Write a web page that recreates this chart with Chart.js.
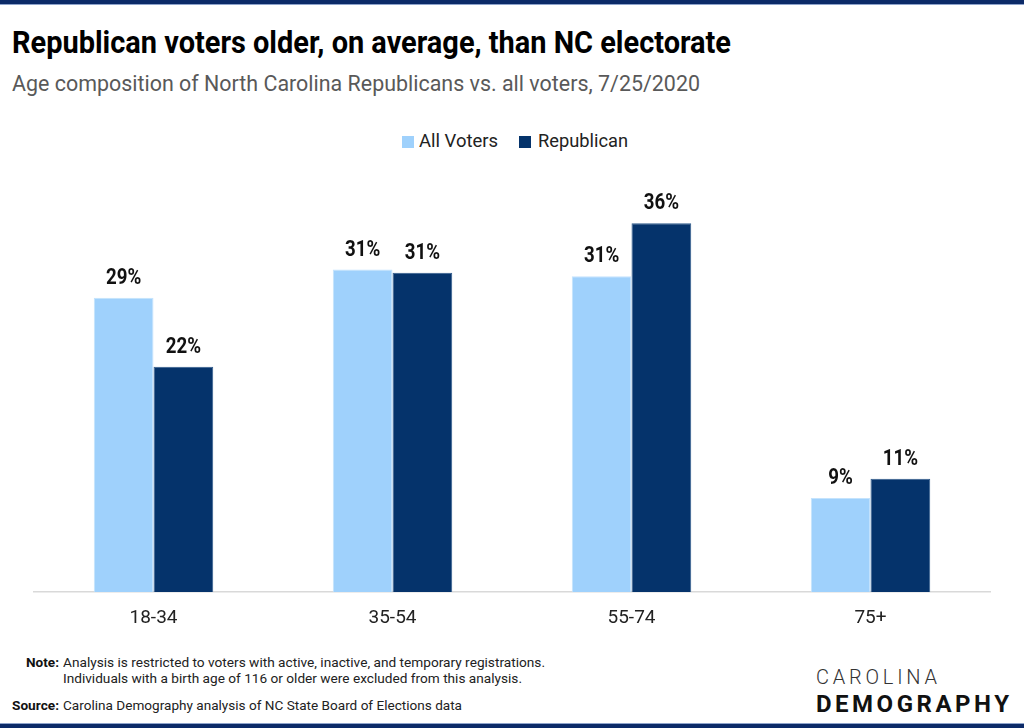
<!DOCTYPE html>
<html>
<head>
<meta charset="utf-8">
<script src="https://cdn.jsdelivr.net/npm/chart.js@4.4.1/dist/chart.umd.min.js"></script>
<style>
  html, body { margin: 0; padding: 0; background: #fff; }
  body { width: 1024px; height: 728px; position: relative; overflow: hidden; font-family: Roboto, "Noto Sans", sans-serif; }
  .t { position: absolute; white-space: nowrap; line-height: 1; transform-origin: left top; }
  #topbar { position: absolute; left: 0; top: 0; width: 1024px; height: 4px; background: #0c2a68; border-bottom: 1px solid #8ea3cb; }
  #botbar { position: absolute; left: 0; top: 723px; width: 1024px; height: 5px; background: #0c2a68; border-top: 1px solid #8ea3cb; }
  #wrap { position: absolute; left: 0; top: 160px; width: 1024px; height: 480px; }
  .sq { position: absolute; width: 12px; height: 12px; }
</style>
</head>
<body>
<div id="topbar"></div>
<div class="t" id="title" data-w="719" style="left:12px; top:27px; font-size:31px; font-weight:700; color:#000;">Republican voters older, on average, than NC electorate</div>
<div class="t" id="subtitle" data-w="688" style="left:12px; top:73px; font-size:22px; color:#595959;">Age composition of North Carolina Republicans vs. all voters, 7/25/2020</div>

<div class="sq" id="sq1" style="left:402px; top:136px;"></div>
<div class="t" id="lg1" data-w="79" style="left:419px; top:131px; font-size:19px; color:#222;"></div>
<div class="sq" id="sq2" style="left:519px; top:136px;"></div>
<div class="t" id="lg2" data-w="90" style="left:538px; top:131px; font-size:19px; color:#222;"></div>

<div id="wrap"><canvas id="c"></canvas></div>

<div class="t" data-w="33" style="left:26px; top:656px; font-size:13px; font-weight:700; color:#111;">Note:</div>
<div class="t" data-w="482" style="left:63px; top:656px; font-size:13px; color:#222;">Analysis is restricted to voters with active, inactive, and temporary registrations.</div>
<div class="t" data-w="459" style="left:63px; top:672px; font-size:13px; color:#222;">Individuals with a birth age of 116 or older were excluded from this analysis.</div>
<div class="t" data-w="47" style="left:12px; top:699px; font-size:13px; font-weight:700; color:#111;">Source:</div>
<div class="t" data-w="399" style="left:63px; top:699px; font-size:13px; color:#222;">Carolina Demography analysis of NC State Board of Elections data</div>

<div class="t" data-ls="121" style="left:816px; top:667px; font-size:20px; font-weight:300; color:#333;">CAROLINA</div>
<div class="t" data-ls="193" style="left:816px; top:692px; font-size:24px; font-weight:700; color:#111;">DEMOGRAPHY</div>

<div id="botbar"></div>

<script>
// ---- data ----
const categories = ["18-34", "35-54", "55-74", "75+"];
const seriesNames = ["All Voters", "Republican"];
const allVoters = [28.6, 31.35, 30.7, 9.15];
const republican = [21.9, 31.05, 35.85, 11.0];
const colors = ["#9fd1fc", "#05336b"];
const borderColors = ["#c4e3fd", "#2f5b8c"];

document.getElementById('sq1').style.background = colors[0];
document.getElementById('sq2').style.background = colors[1];
document.getElementById('lg1').textContent = seriesNames[0];
document.getElementById('lg2').textContent = seriesNames[1];

// fit helpers for HTML text
document.querySelectorAll('[data-w]').forEach(el => {
  const w = el.getBoundingClientRect().width;
  const target = +el.dataset.w;
  if (w > 0) el.style.transform = 'scaleX(' + (target / w) + ')';
});
document.querySelectorAll('[data-ls]').forEach(el => {
  const n = el.textContent.length;
  const w = el.getBoundingClientRect().width;
  const target = +el.dataset.ls;
  const ls = (target - w) / (n - 1);
  el.style.letterSpacing = ls + 'px';
});

const valueLabels = {
  id: 'valueLabels',
  afterDatasetsDraw(chart) {
    const ctx = chart.ctx;
    ctx.save();
    ctx.font = '700 22px Roboto';
    ctx.fillStyle = '#111';
    ctx.textAlign = 'center';
    ctx.textBaseline = 'alphabetic';
    chart.data.datasets.forEach((ds, i) => {
      const meta = chart.getDatasetMeta(i);
      meta.data.forEach((el, j) => {
        const txt = Math.round(ds.data[j]) + '%';
        ctx.save();
        ctx.translate(el.x, el.y - 14);
        ctx.scale(0.85, 1);
        ctx.fillText(txt, 0, 0);
        ctx.restore();
      });
    });
    ctx.restore();
  }
};

new Chart(document.getElementById('c'), {
  type: 'bar',
  data: {
    labels: categories,
    datasets: [
      { label: seriesNames[0], data: allVoters, backgroundColor: colors[0], borderColor: borderColors[0], borderWidth: 1 },
      { label: seriesNames[1], data: republican, backgroundColor: colors[1], borderColor: borderColors[1], borderWidth: 1 }
    ]
  },
  options: {
    responsive: true,
    maintainAspectRatio: false,
    animation: false,
    layout: { padding: { left: 34, right: 34, top: 0, bottom: 0 } },
    datasets: { bar: { categoryPercentage: 0.5, barPercentage: 1.0 } },
    plugins: { legend: { display: false }, tooltip: { enabled: false } },
    scales: {
      x: {
        grid: { display: false, drawTicks: false },
        border: { display: true, color: '#d9d9d9', width: 1.5 },
        ticks: { color: '#222', font: { family: 'Roboto', size: 19 }, padding: 15 },
        afterFit(scale) { scale.height = 48; }
      },
      y: {
        display: false,
        min: 0,
        max: 42
      }
    }
  },
  plugins: [valueLabels]
});
</script>
</body>
</html>
